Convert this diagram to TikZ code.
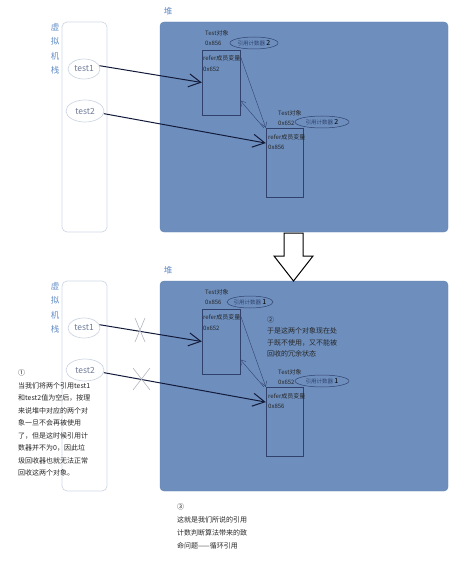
\documentclass[tikz,border=0pt]{standalone}
\usepackage{fontspec}
\newfontfamily\cjk{Noto Sans CJK SC}
\usepackage{xcolor}
\usetikzlibrary{arrows.meta, shapes.geometric}
\definecolor{cHeap}{RGB}{110,143,190}
\definecolor{cHeapLine}{RGB}{95,128,178}
\definecolor{cLabel}{RGB}{98,140,198}
\definecolor{cStack}{RGB}{206,214,228}
\definecolor{cTest}{RGB}{108,120,150}
\definecolor{cObj}{RGB}{48,66,108}
\definecolor{cRef}{RGB}{18,26,58}
\definecolor{cCross}{RGB}{178,182,192}

\begin{document}
\begin{tikzpicture}[x=1pt, y=-1pt, font=\cjk\fontsize{6}{7}\selectfont,
	heap/.style={draw=cHeapLine, fill=cHeap, rounded corners=4pt},
	stackbox/.style={draw=cStack, line width=0.7pt, rounded corners=5pt},
	title/.style={text=cLabel, inner sep=0pt, font=\cjk\fontsize{8.5}{14.5}\selectfont},
	refname/.style={ellipse, draw=cStack, line width=0.7pt, text=cTest, inner sep=0pt, font=\cjk\fontsize{8.5}{10}\selectfont},
	objbox/.style={draw=cObj, line width=0.5pt, inner sep=0pt},
	counter/.style={ellipse, draw=cObj, line width=0.5pt, text=cObj, inner sep=0pt, minimum height=12pt, font=\cjk\fontsize{5.5}{6}\selectfont},
	txt/.style={anchor=west, inner sep=0pt, text=black!85},
	note/.style={anchor=north west, inner sep=0pt, align=left, text=black!85},
	refarrow/.style={cRef, line width=1pt, -{Straight Barb[length=12pt, width=13pt]}},
	linkarrow/.style={cObj, line width=0.4pt, -{Straight Barb[length=5pt, width=6pt]}}]

	\useasboundingbox (0,0) rectangle (474,567);

	\foreach \p/\oy/\cnt/\cw in {1/0/2/48, 2/259/1/40} {
		\draw[heap] (160,22+\oy) rectangle (448,232+\oy);
		\draw[stackbox] (62,22+\oy) rectangle (107,232+\oy);
		\node[title] (hl\p) at (168,11+\oy) {堆};
		\node[title, align=center] (vm\p) at (55,49+\oy) {虚\\拟\\机\\栈};
		\node[refname, minimum width=32pt, minimum height=20pt] (ta\p) at (84,69+\oy) {test1};
		\node[refname, minimum width=38pt, minimum height=22pt] (tb\p) at (85,111+\oy) {test2};

		\node[objbox, minimum width=38pt, minimum height=65pt] (oa\p) at (221,82.5+\oy) {};
		\node[txt] (na\p) at (205,33+\oy) {Test对象};
		\node[txt] (aa\p) at (205,43+\oy) {0x856};
		\node[counter, minimum width=\cw pt] (ca\p) at (230+\cw/2,43+\oy) {引用计数器 {\color{black}\fontsize{7}{7}\selectfont\cnt}};
		\node[txt] (ra\p) at (203,58+\oy) {refer成员变量};
		\node[txt] (pa\p) at (203,69+\oy) {0x652};

		\node[objbox, minimum width=37pt, minimum height=69pt] (ob\p) at (284.5,162.5+\oy) {};
		\node[txt] (nb\p) at (278,113+\oy) {Test对象};
		\node[txt] (ab\p) at (278,123+\oy) {0x652};
		\node[counter, minimum width=54pt] (cb\p) at (322,122+\oy) {引用计数器 {\color{black}\fontsize{7}{7}\selectfont\cnt}};
		\node[txt] (rb\p) at (268,137+\oy) {refer成员变量};
		\node[txt] (pb\p) at (268,147+\oy) {0x856};

		\draw[refarrow] (ta\p.12) -- (oa\p.west);
		\draw[refarrow] (tb\p.-8) -- (ob\p.134);
		\draw[linkarrow] ([yshift=-6pt]oa\p.north east) -- (ob\p.north west);
		\draw[linkarrow] ([xshift=-2pt]ob\p.north west) -- (oa\p.-43);
	}

	\draw[line width=1pt, fill=white] (284,233) -- (303,233) -- (303,256) -- (313,256) -- (293.5,281) -- (274,256) -- (284,256) -- cycle;

	\draw[cCross, line width=0.6pt] (135,318) -- (145,342) (145,318) -- (135,342);
	\draw[cCross, line width=0.6pt] (133,368) -- (150,390) (150,368) -- (133,390);

	\node[note, font=\cjk\fontsize{7}{11.3}\selectfont] (n2) at (267,316.5) {②\\于是这两个对象现在处\\于既不使用，又不能被\\回收的冗余状态};
	\node[note, font=\cjk\fontsize{7}{12.5}\selectfont] (n1) at (18,369.5) {①\\当我们将两个引用test1\\和test2值为空后，按理\\来说堆中对应的两个对\\象一旦不会再被使用\\了，但是这时候引用计\\数器并不为0，因此垃\\圾回收器也就无法正常\\回收这两个对象。};
	\node[note, font=\cjk\fontsize{7}{12.8}\selectfont] (n3) at (177,503.5) {③\\这就是我们所说的引用\\计数判断算法带来的致\\命问题——循环引用};
\end{tikzpicture}
\end{document}
